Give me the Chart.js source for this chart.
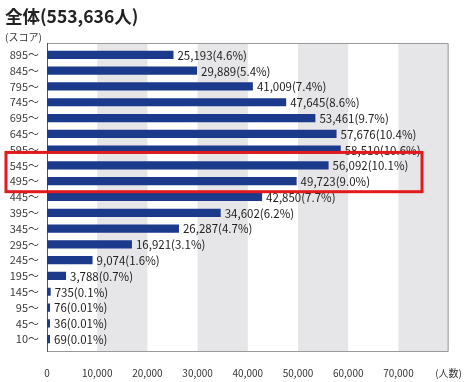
<!DOCTYPE html>
<html><head><meta charset="utf-8">
<script src="https://cdn.jsdelivr.net/npm/chart.js@4/dist/chart.umd.min.js"></script>
<style>html,body{margin:0;padding:0;background:#fff}#wrap{width:474px;height:382px;position:relative}</style>
</head><body><div id="wrap"><canvas id="c" width="474" height="382"></canvas></div>
<script>
const categories = ['895〜','845〜','795〜','745〜','695〜','645〜','595〜','545〜','495〜','445〜','395〜','345〜','295〜','245〜','195〜','145〜','95〜','45〜','10〜'];
const counts = [25193,29889,41009,47645,53461,57676,58510,56092,49723,42850,34602,26287,16921,9074,3788,735,76,36,69];
const percents = ['4.6%','5.4%','7.4%','8.6%','9.7%','10.4%','10.6%','10.1%','9.0%','7.7%','6.2%','4.7%','3.1%','1.6%','0.7%','0.1%','0.01%','0.01%','0.01%'];
const xTicks = [0,10000,20000,30000,40000,50000,60000,70000,80000];
const xTickLabels = ['0','10,000','20,000','30,000','40,000','50,000','60,000','70,000','(人数)'];
const title = '全体(553,636人)';
const yAxisTitle = '(スコア)';
const highlighted = ['545〜','495〜'];

const FONT = '"Noto Sans CJK JP","Noto Sans",sans-serif';

const decor = {
  id:'decor',
  beforeDatasetsDraw(chart){
    const {ctx, chartArea:a, scales:{x}} = chart;
    const top=a.top-4, bot=a.bottom+5;
    ctx.save();
    ctx.fillStyle='#e6e6e9';
    for(let v=10000; v<80000; v+=20000){
      const x1=x.getPixelForValue(v), x2=x.getPixelForValue(v+10000);
      ctx.fillRect(x1, top, x2-x1, bot-top);
    }
    ctx.strokeStyle='#9a9a9a'; ctx.lineWidth=1;
    ctx.beginPath();
    ctx.moveTo(a.left, top+0.5); ctx.lineTo(a.right-0.5, top+0.5);
    ctx.lineTo(a.right-0.5, bot-0.5); ctx.lineTo(a.left, bot-0.5);
    ctx.stroke();
    ctx.strokeStyle='#555'; ctx.beginPath();
    ctx.moveTo(a.left+0.5, top); ctx.lineTo(a.left+0.5, bot); ctx.stroke();
    ctx.restore();
  },
  afterDatasetsDraw(chart){
    const {ctx, scales:{x,y}} = chart;
    ctx.save();
    ctx.font='11.5px '+FONT; ctx.fillStyle='#222'; ctx.textBaseline='middle'; ctx.textAlign='left';
    counts.forEach((v,i)=>{
      const px = Math.max(x.getPixelForValue(v), x.getPixelForValue(0)+3)+4, py = y.getPixelForValue(i);
      ctx.fillText(v.toLocaleString('en-US')+'('+percents[i]+')', px, py+0.5);
    });
    // highlight box
    const i1 = categories.indexOf(highlighted[0]), i2 = categories.indexOf(highlighted[1]);
    const t = y.getPixelForValue(i1)-13, b = y.getPixelForValue(i2)+10.5;
    ctx.strokeStyle='#e3191c'; ctx.lineWidth=3;
    ctx.strokeRect(6, t, x.getPixelForValue(74700)-6, b-t);
    // titles
    ctx.fillStyle='#222'; ctx.textBaseline='middle';
    ctx.font='bold 17.5px '+FONT; ctx.fillText(title, 5, 16);
    ctx.font='10px '+FONT; ctx.fillStyle='#333'; ctx.fillText(yAxisTitle, 5, 37);
    ctx.restore();
  }
};

new Chart(document.getElementById('c'), {
  type:'bar',
  data:{labels:categories, datasets:[{data:counts, backgroundColor:'#1c3a8c', barPercentage:0.52, categoryPercentage:1, minBarLength:3}]},
  options:{
    indexAxis:'y', responsive:false, animation:false,
    layout:{padding:{top:47, right:22, left:0, bottom:0}},
    plugins:{legend:{display:false}, tooltip:{enabled:false}},
    scales:{
      x:{type:'linear', min:0, max:80000, grid:{display:false}, border:{display:false},
         afterBuildTicks(s){ s.ticks = xTicks.map(v=>({value:v})); },
         afterFit(s){ s.height=35; },
         ticks:{padding:12, color:'#333', font:{size:10, family:FONT}, maxRotation:0, autoSkip:false,
           callback:(v)=>{const k=xTicks.indexOf(v); return k>=0?xTickLabels[k]:'';}}},
      y:{grid:{display:false}, border:{display:false}, offset:true,
         afterFit(s){ s.width=47; },
         ticks:{padding:0, color:'#3a3a3a', font:{size:11, family:FONT}, autoSkip:false}}
    }
  },
  plugins:[decor]
});
</script></body></html>
